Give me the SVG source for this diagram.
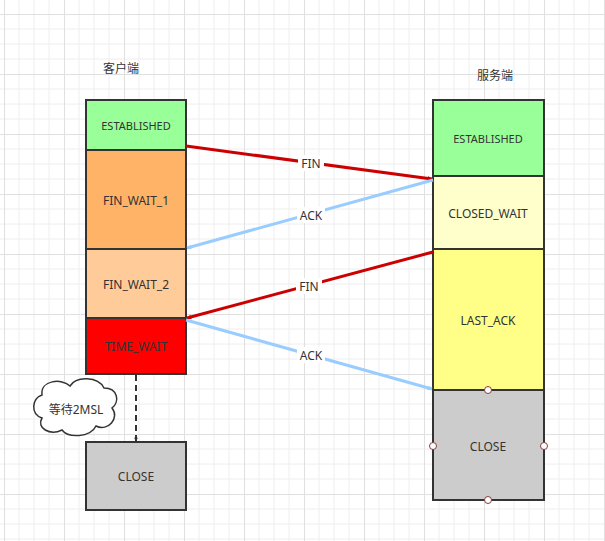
<svg xmlns="http://www.w3.org/2000/svg" width="605" height="541" viewBox="0 0 605 541">
<defs>
<pattern id="g" x="4" y="14" width="60" height="60" patternUnits="userSpaceOnUse">
<path d="M15 0V60M30 0V60M45 0V60M0 15H60M0 30H60M0 45H60" stroke="#eeeeee" stroke-width="1" fill="none"/>
<path d="M0.5 0V60M0 0.5H60" stroke="#e0e0e0" stroke-width="1" fill="none"/>
</pattern>
<marker id="ar" viewBox="0 0 10 10" refX="9" refY="5" markerWidth="5" markerHeight="5" orient="auto" markerUnits="userSpaceOnUse"><path d="M0 0L10 5L0 10L2 5Z" fill="#cc0000"/></marker>
<marker id="ab" viewBox="0 0 10 10" refX="9" refY="5" markerWidth="5" markerHeight="5" orient="auto" markerUnits="userSpaceOnUse"><path d="M0 0L10 5L0 10L2 5Z" fill="#99ccff"/></marker>
<marker id="ak" viewBox="0 0 10 10" refX="9" refY="5" markerWidth="4" markerHeight="4" orient="auto" markerUnits="userSpaceOnUse"><path d="M0 0L10 5L0 10L2 5Z" fill="#333"/></marker>
</defs>
<style>
.b{stroke:#333;stroke-width:2}
text{font-family:"Noto Sans","Noto Sans CJK SC",sans-serif;font-size:12px;fill:#333;text-anchor:middle;dominant-baseline:central}
.lb{fill:#fff}
.h{fill:#fff;stroke:#8b3a3a;stroke-width:1}
</style>
<rect width="605" height="541" fill="#fff"/>
<rect width="605" height="541" fill="url(#g)"/>
<text x="121" y="68">客户端</text>
<text x="495" y="75">服务端</text>
<g id="c-est"><rect class="b" x="86" y="100" width="100" height="50" fill="#99ff99"/><text x="136" y="125" style="font-size:11px">ESTABLISHED</text></g>
<g id="c-fw1"><rect class="b" x="86" y="150" width="100" height="99" fill="#ffb366"/><text x="136" y="200">FIN_WAIT_1</text></g>
<g id="c-fw2"><rect class="b" x="86" y="249" width="100" height="69" fill="#ffcc99"/><text x="136" y="284">FIN_WAIT_2</text></g>
<g id="c-tw"><rect class="b" x="86" y="318" width="100" height="56" fill="#ff0000"/><text x="136" y="346">TIME_WAIT</text></g>
<g id="c-close"><rect class="b" x="86" y="442" width="100" height="68" fill="#cccccc"/><text x="136" y="476">CLOSE</text></g>
<g id="cloud"><path d="M42 395C40 380 62 378 70 386C76 376 98 376 104 388C118 388 120 402 112 408C120 418 108 432 96 426C90 438 68 438 62 430C50 436 36 428 42 418C30 414 32 398 42 395Z" fill="#fff" stroke="#333" stroke-width="1.5"/><text x="76" y="409">等待2MSL</text></g>
<g id="s-est"><rect class="b" x="433" y="100" width="111" height="76" fill="#99ff99"/><text x="488" y="138" style="font-size:11px">ESTABLISHED</text></g>
<g id="s-cw"><rect class="b" x="433" y="176" width="111" height="73" fill="#ffffcc"/><text x="488" y="213">CLOSED_WAIT</text></g>
<g id="s-la"><rect class="b" x="433" y="249" width="111" height="141" fill="#ffff88"/><text x="488" y="320">LAST_ACK</text></g>
<g id="s-close"><rect class="b" x="433" y="390" width="111" height="110" fill="#cccccc"/><text x="488" y="446">CLOSE</text>
<circle class="h" cx="488" cy="390" r="3.5"/><circle class="h" cx="433" cy="446" r="3.5"/><circle class="h" cx="544" cy="446" r="3.5"/><circle class="h" cx="488" cy="500" r="3.5"/></g>
<g id="connectors">
<line x1="186" y1="146" x2="432" y2="179" stroke="#cc0000" stroke-width="3" marker-end="url(#ar)"/>
<line x1="433" y1="180" x2="187" y2="248" stroke="#99ccff" stroke-width="3" marker-end="url(#ab)"/>
<line x1="433" y1="252" x2="187" y2="318" stroke="#cc0000" stroke-width="3" marker-end="url(#ar)"/>
<line x1="186" y1="320" x2="432" y2="389" stroke="#99ccff" stroke-width="3" marker-end="url(#ab)"/>
<line x1="136" y1="375" x2="136" y2="441" stroke="#333" stroke-width="2" stroke-dasharray="6 4" marker-end="url(#ak)"/>
<rect class="lb" x="298" y="155" width="26" height="16"/><text x="311" y="163">FIN</text>
<rect class="lb" x="297" y="207" width="28" height="16"/><text x="311" y="215">ACK</text>
<rect class="lb" x="296" y="278" width="26" height="16"/><text x="309" y="286">FIN</text>
<rect class="lb" x="297" y="347" width="28" height="16"/><text x="311" y="355">ACK</text>
</g>
</svg>
